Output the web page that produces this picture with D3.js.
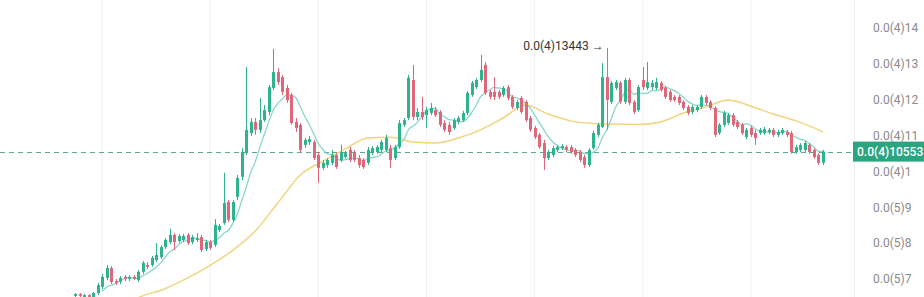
<!DOCTYPE html>
<html><head><meta charset="utf-8">
<script src="https://cdn.jsdelivr.net/npm/d3@7"></script>
<style>body{margin:0;background:#fff}svg{display:block;font-family:Roboto,"Noto Sans",sans-serif}</style>
</head><body><svg id="c" width="924" height="297"></svg>
<script>
// Prices in millionths (14 = 0.000014 = "0.0(4)14")
const opens=[6.53,6.58,6.50,6.55,6.50,6.61,6.78,7.03,7.31,6.94,
6.92,7.06,7.00,7.06,6.97,7.20,7.39,7.39,7.53,7.61,
7.89,8.03,8.23,8.06,8.09,8.23,8.03,8.09,8.17,7.84,
8.03,7.95,8.37,8.56,9.15,8.65,9.29,9.85,10.51,11.07,
11.38,11.16,11.43,11.66,12.33,12.77,12.63,12.33,12.13,11.38,
11.30,10.74,10.82,10.82,10.46,10.10,10.18,10.24,10.46,10.32,
10.40,10.60,10.54,10.37,10.32,10.24,10.51,10.54,10.60,10.60,
10.65,10.37,10.68,11.30,11.49,12.55,11.52,11.66,11.57,11.63,
11.71,11.66,11.35,11.30,11.21,11.38,11.43,11.63,12.13,12.35,
12.55,12.97,12.22,12.22,12.22,12.13,12.35,12.08,11.77,12.05,
11.94,11.49,11.21,11.02,10.79,10.37,10.46,10.60,10.65,10.68,
10.68,10.60,10.54,10.40,10.18,10.65,11.02,11.24,12.63,11.94,
12.33,12.47,11.94,12.55,11.94,11.71,12.55,12.33,12.35,12.33,
12.47,12.33,12.22,12.08,12.08,11.94,11.80,11.66,11.71,11.80,
12.08,11.94,11.77,11.07,11.30,11.35,11.57,11.38,11.30,10.96,
11.21,11.07,11.07,11.07,11.10,11.16,11.02,11.07,11.10,11.07,
10.54,10.60,10.60,10.74,10.60,10.46,10.24];
const highs=[6.61,6.61,6.58,6.58,6.64,6.89,7.14,7.39,7.36,7.00,
7.08,7.11,7.11,7.11,7.25,7.50,7.47,7.64,8.00,7.95,
8.14,8.40,8.28,8.26,8.26,8.28,8.23,8.28,8.23,8.09,
8.09,8.67,8.53,9.96,9.20,9.20,9.90,10.65,12.91,11.49,
11.49,12.05,11.85,12.41,13.42,12.88,12.69,12.41,12.19,11.49,
11.35,10.93,10.99,10.88,10.54,10.32,10.37,10.60,10.51,10.74,
10.57,10.68,10.60,10.46,10.37,10.68,10.71,10.74,10.88,11.02,
10.74,10.74,11.43,11.49,12.69,12.97,11.77,12.08,11.80,11.91,
11.80,11.71,11.43,11.38,11.49,11.55,11.69,12.24,12.52,12.61,
13.25,13.05,12.27,12.63,12.27,12.38,12.41,12.13,11.99,12.10,
11.99,11.55,11.27,11.07,10.88,10.60,10.71,10.74,10.77,10.74,
10.74,10.65,10.60,10.46,10.65,11.13,11.35,13.02,13.443,12.52,
12.55,12.52,12.61,12.61,11.99,12.41,12.91,13.05,12.55,12.61,
12.52,12.38,12.27,12.13,12.13,11.99,11.85,11.85,11.85,12.13,
12.13,11.99,11.82,11.35,11.69,11.63,11.63,11.43,11.35,11.21,
11.27,11.16,11.21,11.24,11.21,11.21,11.16,11.21,11.16,11.13,
10.74,10.79,10.85,10.79,10.65,10.51,10.60];
const lows=[6.50,6.47,6.47,6.47,6.47,6.55,6.72,6.97,6.86,6.83,
6.86,6.94,6.94,6.97,6.92,7.14,7.28,7.34,7.47,7.56,
7.84,7.97,7.81,8.00,8.03,7.95,7.97,8.03,7.75,7.78,
7.81,7.89,8.31,8.51,8.59,8.59,9.20,9.76,10.46,10.99,
11.02,11.07,11.38,11.57,12.27,12.41,12.13,11.91,11.30,11.10,
10.54,10.65,10.74,10.32,9.68,10.04,10.10,10.18,10.07,10.26,
10.35,10.26,10.26,10.10,10.07,10.18,10.46,10.49,10.54,10.54,
10.10,10.32,10.63,11.24,11.43,11.43,11.43,11.43,11.21,11.57,
11.52,11.24,11.10,11.02,11.16,11.32,11.38,11.57,12.08,12.30,
12.49,12.13,12.02,11.99,12.02,12.08,11.99,11.74,11.71,11.60,
11.38,11.10,10.90,10.63,10.04,10.32,10.40,10.54,10.60,10.54,
10.49,10.40,10.26,10.10,10.12,10.60,10.96,11.21,11.16,11.88,
12.27,11.88,11.88,11.85,11.60,11.66,12.27,12.27,12.27,12.27,
12.22,12.02,11.94,11.94,11.85,11.71,11.57,11.60,11.66,11.74,
11.85,11.71,10.96,11.02,11.24,11.30,11.24,11.18,11.02,10.90,
10.96,10.74,11.02,11.02,11.04,10.96,10.96,11.02,10.96,10.49,
10.49,10.54,10.54,10.49,10.35,10.18,10.18];
const closes=[6.58,6.53,6.55,6.50,6.61,6.83,7.06,7.31,6.92,6.89,
7.03,7.00,7.06,7.00,7.20,7.45,7.34,7.59,7.67,7.89,
8.09,8.23,8.03,8.20,8.20,8.00,8.17,8.14,7.81,8.03,
7.87,8.51,8.48,9.12,8.65,9.15,9.82,10.54,11.16,11.38,
11.16,11.43,11.71,12.35,12.77,12.49,12.22,11.99,11.35,11.21,
10.60,10.88,10.90,10.37,10.10,10.24,10.32,10.46,10.12,10.54,
10.51,10.32,10.32,10.18,10.12,10.60,10.65,10.68,10.82,10.93,
10.32,10.68,11.35,11.43,12.61,11.52,11.66,11.52,11.71,11.77,
11.57,11.30,11.16,11.10,11.43,11.49,11.63,12.19,12.47,12.55,
12.83,12.19,12.08,12.08,12.08,12.33,12.05,11.80,11.94,11.66,
11.43,11.16,10.96,10.68,10.37,10.54,10.65,10.68,10.71,10.60,
10.54,10.46,10.32,10.18,10.60,11.07,11.30,12.63,11.99,12.47,
12.49,11.94,12.55,11.91,11.66,12.35,12.35,12.49,12.47,12.49,
12.27,12.08,11.99,11.99,11.91,11.77,11.63,11.80,11.80,12.08,
11.91,11.77,11.02,11.30,11.63,11.57,11.30,11.24,11.07,11.16,
11.02,10.93,11.16,11.18,11.16,11.02,11.10,11.16,11.02,10.54,
10.68,10.74,10.79,10.54,10.40,10.24,10.553];
// slow moving average (candle index -> value)
const slowIdx=[14,15,20,25,30,35,40,45,50,55,60,65,70,75,80,85,90,95,100,105,110,115,120,125,130,135,140,145,150,155,160,165,166];
const slowVals=[6.48,6.53,6.73,7.03,7.38,7.80,8.34,9.12,9.90,10.28,10.63,10.93,10.95,10.82,10.79,10.93,11.16,11.49,11.85,11.60,11.41,11.34,11.32,11.31,11.38,11.63,11.80,11.99,11.82,11.60,11.41,11.16,11.10];
const fastPeriod=7;
const tickValues=[7,8,9,10,11,12,13,14];
const tickLabels=["0.0(5)7","0.0(5)8","0.0(5)9","0.0(4)1","0.0(4)11","0.0(4)12","0.0(4)13","0.0(4)14"];
const gridIdx=[6,30,54,78,102,126,150];

function fmt(v){
  if(v>=10) return "0.0(4)"+String(Math.round(v*1000)).replace(/0+$/,'');
  return "0.0(5)"+String(Math.round(v*1000)).replace(/0+$/,'');
}

const W=924,H=297, plotRight=853;
const GREEN="#2db38d", RED="#e0677a";
const svg=d3.select('#c');
const n=closes.length;
const x=d3.scaleLinear().domain([0,n-1]).range([75,823]);
const y=d3.scaleLinear().domain([7,14]).range([279,28]);

svg.append('defs').append('clipPath').attr('id','clip')
  .append('rect').attr('x',0).attr('y',0).attr('width',plotRight).attr('height',H);

// grid
svg.append('g').selectAll('line').data(gridIdx).join('line')
  .attr('x1',d=>x(d)).attr('x2',d=>x(d)).attr('y1',0).attr('y2',H)
  .attr('stroke','#f1f1f1').attr('stroke-width',1);
svg.append('line').attr('x1',plotRight+1.5).attr('x2',plotRight+1.5).attr('y1',0).attr('y2',H)
  .attr('stroke','#f1f1f1');

const plot=svg.append('g').attr('clip-path','url(#clip)');

// price line
const last=closes[n-1];
plot.append('line').attr('x1',0).attr('x2',plotRight).attr('y1',Math.round(y(last))+0.5).attr('y2',Math.round(y(last))+0.5)
  .attr('stroke','#5fa597').attr('stroke-width',1).attr('stroke-dasharray','5,4');

// slow MA
const slowData=slowIdx.map((d,i)=>[d,slowVals[i]]);
plot.append('path').datum(slowData)
  .attr('d',d3.line().x(d=>x(d[0])).y(d=>y(d[1])).curve(d3.curveMonotoneX))
  .attr('fill','none').attr('stroke','#f2d47f').attr('stroke-width',1.5);

// fast MA (simple moving average of closes)
const fast=[];
for(let i=fastPeriod-1;i<n;i++){ fast.push([i,d3.mean(closes.slice(i-fastPeriod+1,i+1))]); }
plot.append('path').datum(fast)
  .attr('d',d3.line().x(d=>x(d[0])).y(d=>y(d[1])).curve(d3.curveMonotoneX))
  .attr('fill','none').attr('stroke','#80d5c6').attr('stroke-width',1.2);

// candles
const idx=d3.range(n);
const col=i=>closes[i]>=opens[i]?GREEN:RED;
plot.append('g').selectAll('line').data(idx).join('line')
  .attr('x1',i=>Math.round(x(i))+0.5).attr('x2',i=>Math.round(x(i))+0.5)
  .attr('y1',i=>y(highs[i])).attr('y2',i=>y(lows[i]))
  .attr('stroke',col).attr('stroke-width',1);
plot.append('g').selectAll('rect').data(idx).join('rect')
  .attr('x',i=>Math.round(x(i))-1).attr('width',3)
  .attr('y',i=>y(Math.max(opens[i],closes[i])))
  .attr('height',i=>Math.max(1,Math.abs(y(opens[i])-y(closes[i]))))
  .attr('fill',col);

// y axis labels
const ax=svg.append('g').attr('transform',`translate(873,0)`)
  .call(d3.axisRight(y).tickValues(tickValues).tickSize(0).tickPadding(0).tickFormat((d,i)=>tickLabels[i]));
ax.select('.domain').remove();
ax.selectAll('text').attr('fill','#8a8a8a').attr('font-size',12).attr('font-family','Roboto,"Noto Sans",sans-serif');

// price label
const py=y(last);
svg.append('rect').attr('x',plotRight).attr('y',py-10).attr('width',W-plotRight).attr('height',20).attr('fill','#2aa57f');
svg.append('text').attr('x',plotRight+4).attr('y',py).attr('dy','0.35em')
  .attr('fill','#fff').attr('font-size',12).attr('font-weight',500).text(fmt(last));

// peak annotation
const peakI=d3.maxIndex(highs);
svg.append('text').attr('x',x(peakI)-3).attr('y',y(highs[peakI])+2)
  .attr('text-anchor','end').attr('fill','#333').attr('font-size',12)
  .text(fmt(highs[peakI])+" \u2192");
</script></body></html>
